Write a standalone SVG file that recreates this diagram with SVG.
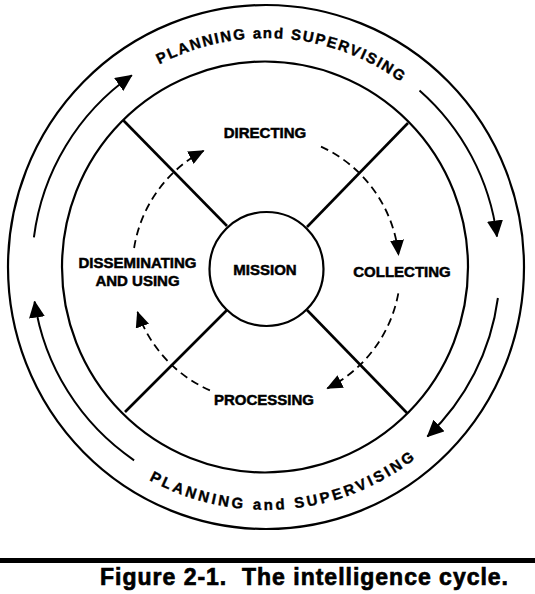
<svg xmlns="http://www.w3.org/2000/svg" width="535" height="594" viewBox="0 0 535 594">
<style>
.ring{fill:none;stroke:#000;stroke-width:2.2}
.div{stroke:#000;stroke-width:2.6;fill:none}
.cyc{fill:none;stroke:#000;stroke-width:2}
.dash{fill:none;stroke:#000;stroke-width:1.8;stroke-dasharray:8 5}
.lbl{font-family:"Liberation Sans",Arial,sans-serif;font-weight:bold;font-size:15px;fill:#000;stroke:#000;stroke-width:0.5;text-anchor:middle}
.arc{font-family:"Liberation Sans",Arial,sans-serif;font-weight:bold;font-size:15px;fill:#000;stroke:#000;stroke-width:0.4;text-anchor:middle}
.cap{font-family:"Liberation Sans",Arial,sans-serif;font-weight:bold;font-size:23px;fill:#000;stroke:#000;stroke-width:0.7}
</style>
<defs>
<marker id="ah" markerUnits="userSpaceOnUse" markerWidth="17" markerHeight="16" refX="16" refY="8" orient="auto">
<path d="M0,0 L17,8 L0,16 Z" fill="#000"/>
</marker>
<marker id="ahs" markerUnits="userSpaceOnUse" markerWidth="16" markerHeight="14" refX="15" refY="7" orient="auto">
<path d="M0,0 L16,7 L0,14 Z" fill="#000"/>
</marker>
<path id="topArc" d="M37,267 A229,229 0 0 1 495,267"/>
<path id="botArc" d="M23,267 A243,243 0 0 0 509,267"/>
</defs>
<rect width="535" height="594" fill="#fff"/>

<g id="outer-ring">
<ellipse class="ring" cx="266" cy="267" rx="258" ry="262"/>
<ellipse class="ring" cx="265" cy="267" rx="203" ry="205.5"/>
</g>

<g id="planning-top">
<text class="arc" letter-spacing="1.7"><textPath href="#topArc" startOffset="52.4%">PLANNING and SUPERVISING</textPath></text>
</g>
<g id="planning-bottom">
<text class="arc" letter-spacing="2.9"><textPath href="#botArc" startOffset="52.7%">PLANNING and SUPERVISING</textPath></text>
</g>

<g id="dividers">
<line class="div" x1="123" y1="120" x2="227" y2="226"/>
<line class="div" x1="408" y1="123" x2="307" y2="227"/>
<line class="div" x1="125" y1="412" x2="227" y2="310"/>
<line class="div" x1="407" y1="413" x2="307" y2="310"/>
</g>

<g id="mission">
<circle cx="266.5" cy="269" r="57" fill="#fff" stroke="#000" stroke-width="2.2"/>
<text class="lbl" x="265" y="275">MISSION</text>
</g>

<g id="directing"><text class="lbl" x="265" y="138">DIRECTING</text></g>
<g id="collecting"><text class="lbl" x="402" y="277">COLLECTING</text></g>
<g id="processing"><text class="lbl" x="264" y="405">PROCESSING</text></g>
<g id="disseminating">
<text class="lbl" x="137.5" y="268">DISSEMINATING</text>
<text class="lbl" x="137.5" y="286">AND USING</text>
</g>

<g id="connectors">
<path class="cyc" marker-end="url(#ah)" d="M33.9,237.3 A234,234 0 0 1 131.8,75.3"/>
<path class="cyc" marker-end="url(#ah)" d="M419.5,90.4 A234,234 0 0 1 497.0,236.5"/>
<path class="cyc" marker-end="url(#ah)" d="M497.9,298.0 A234,234 0 0 1 427.4,436.5"/>
<path class="cyc" marker-end="url(#ah)" d="M134.1,460.3 A234,234 0 0 1 34.6,301.6"/>
<path class="dash" marker-end="url(#ahs)" d="M134.1,248.0 A134,134 0 0 1 203.6,150.7"/>
<path class="dash" marker-end="url(#ahs)" d="M321.0,146.6 A134,134 0 0 1 398.5,255.0"/>
<path class="dash" marker-end="url(#ahs)" d="M398.3,293.4 A134,134 0 0 1 327.3,388.4"/>
<path class="dash" marker-end="url(#ahs)" d="M209.9,390.4 A134,134 0 0 1 137.5,312.0"/>
</g>

<g id="caption">
<rect x="0" y="558" width="535" height="5" fill="#000"/>
<text class="cap" x="100" y="585" textLength="408" lengthAdjust="spacing" xml:space="preserve">Figure 2-1.  The intelligence cycle.</text>
</g>
</svg>
